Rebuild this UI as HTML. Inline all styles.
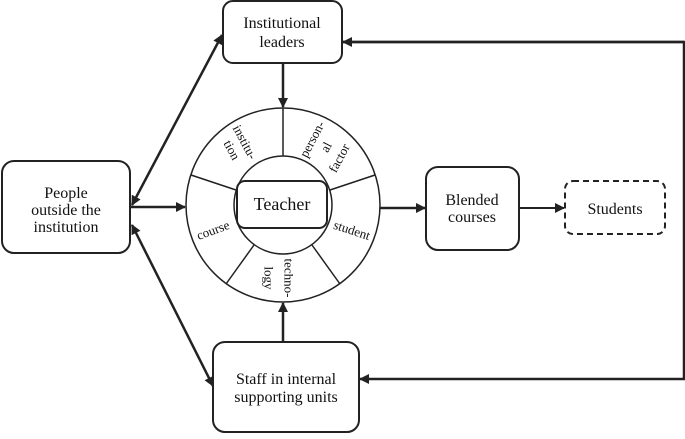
<!DOCTYPE html>
<html><head><style>
body{margin:0;background:#fff;}
svg text{font-family:"Liberation Serif","DejaVu Serif",serif;fill:#111;}
</style></head><body>
<svg width="685" height="434" viewBox="0 0 685 434" xmlns="http://www.w3.org/2000/svg" font-family="Liberation Serif, DejaVu Serif, serif">
<defs>
<marker id="a" markerWidth="10" markerHeight="10" refX="9" refY="5" orient="auto" markerUnits="userSpaceOnUse">
<path d="M0,0 L10,5 L0,10 z" fill="#222"/></marker>
<marker id="b" markerWidth="10" markerHeight="10" refX="1" refY="5" orient="auto" markerUnits="userSpaceOnUse">
<path d="M10,0 L0,5 L10,10 z" fill="#222"/></marker>
</defs>
<g stroke="#222" fill="none">
<rect x="223" y="1" width="119" height="62" rx="10" stroke-width="2"/>
<rect x="2" y="161" width="128" height="92" rx="12" stroke-width="2"/>
<rect x="213" y="342" width="146" height="90" rx="12" stroke-width="2"/>
<rect x="426" y="167" width="93" height="83" rx="12" stroke-width="2"/>
<rect x="565" y="181" width="100" height="53" rx="8" stroke-width="2" stroke-dasharray="6,4"/>
<circle cx="283" cy="205" r="97" stroke-width="1.5"/>
<circle cx="283" cy="205" r="49" stroke-width="1.5"/>
<rect x="237" y="181" width="90" height="47" rx="8" stroke-width="2"/>
<line x1="283" y1="156" x2="283" y2="108" stroke-width="1.5"/>
<line x1="330" y1="190" x2="375" y2="175" stroke-width="1.5"/>
<line x1="312" y1="245" x2="340" y2="284" stroke-width="1.5"/>
<line x1="254" y1="245" x2="226" y2="284" stroke-width="1.5"/>
<line x1="236" y1="190" x2="191" y2="175" stroke-width="1.5"/>
<line x1="283" y1="63" x2="283" y2="107" stroke-width="2.5" marker-end="url(#a)"/>
<line x1="283" y1="342" x2="283" y2="303" stroke-width="2.5" marker-end="url(#a)"/>
<line x1="132" y1="205" x2="222" y2="35" stroke-width="2.5" marker-start="url(#b)" marker-end="url(#a)"/>
<line x1="132" y1="225" x2="213" y2="386" stroke-width="2.5" marker-start="url(#b)" marker-end="url(#a)"/>
<line x1="131" y1="207" x2="185" y2="207" stroke-width="2.5" marker-end="url(#a)"/>
<line x1="380" y1="208" x2="425" y2="208" stroke-width="2.5" marker-end="url(#a)"/>
<line x1="519" y1="208" x2="564" y2="208" stroke-width="2" marker-end="url(#a)"/>
<polyline points="343,42 684,42 684,379 360,379" stroke-width="2.5" marker-end="url(#a)"/>
<line x1="684" y1="42" x2="343" y2="42" stroke-width="2.5" marker-end="url(#a)"/>
</g>
<g font-size="16" text-anchor="middle">
<text x="282" y="28">Institutional</text><text x="282" y="47">leaders</text>
<text x="66" y="198">People</text><text x="66" y="215">outside the</text><text x="66" y="232">institution</text>
<text x="286" y="384">Staff in internal</text><text x="286" y="402">supporting units</text>
<text x="472" y="205">Blended</text><text x="472" y="222">courses</text>
<text x="615" y="214">Students</text>
<text x="282" y="210" font-size="18">Teacher</text>
</g>
<g font-size="13" text-anchor="middle" dominant-baseline="central">
<text transform="translate(245,142) rotate(62)">institu-</text>
<text transform="translate(232,150) rotate(62)">tion</text>
<text transform="translate(312,139) rotate(-62)">person-</text>
<text transform="translate(326,147) rotate(-62)">al</text>
<text transform="translate(339,158) rotate(-62)">factor</text>
<text transform="translate(213,230) rotate(-20)">course</text>
<text transform="translate(352,230) rotate(18)">student</text>
<text transform="translate(289,278) rotate(90)">techno-</text>
<text transform="translate(269,278) rotate(90)">logy</text>
</g>
</svg>
</body></html>
